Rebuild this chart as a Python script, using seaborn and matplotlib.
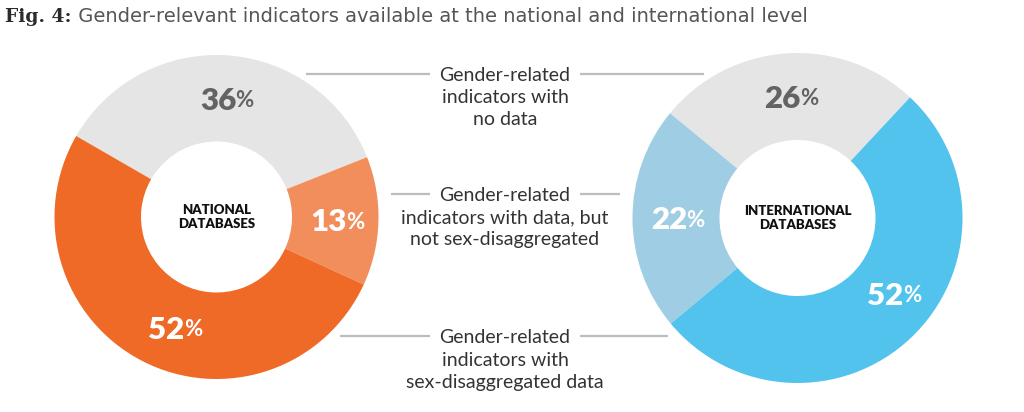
import numpy as np
import matplotlib
matplotlib.use("Agg")
import matplotlib.pyplot as plt
import seaborn as sns

# data
category_labels = [
    "Gender-related\nindicators with\nno data",
    "Gender-related\nindicators with data, but\nnot sex-disaggregated",
    "Gender-related\nindicators with\nsex-disaggregated data",
]
national_pct = [36, 13, 52]
international_pct = [26, 22, 52]
donut_titles = ["NATIONAL\nDATABASES", "INTERNATIONAL\nDATABASES"]

# styles
national_colors = ["#e5e5e5", "#f28e5c", "#ee6a26"]
international_colors = ["#e5e5e5", "#9fcde3", "#52c3ec"]
pct_text_colors = ["#636363", "white", "white"]
line_color = "#bdbdbd"
text_color = "#333333"

sns.set_theme(style="white")
plt.rcParams["font.family"] = ["Lato", "DejaVu Sans"]

W, H = 1024, 412
fig = plt.figure(figsize=(W / 100, H / 100), dpi=100)
ax = fig.add_axes([0, 0, 1, 1])

# layout (pixel units, y up)
donuts = [
    dict(values=national_pct, colors=national_colors, center=(216.5, 195.0),
         radius=162.0, width=86.5, startangle=150, counterclock=False,
         label_shift=[0, 0, 6]),
    dict(values=international_pct, colors=international_colors, center=(797.5, 194.0),
         radius=165.0, width=87.0, startangle=47, counterclock=True,
         label_shift=[0, 0, 8]),
]


def draw_pct(ax, x, y, value, color):
    t = ax.text(x - 7, y, str(value), ha="center", va="center", fontsize=22.5,
                fontweight="heavy", color=color)
    ax.annotate("%", xy=(1, 0), xycoords=t, xytext=(-0.5, 2.5), textcoords="offset points",
                ha="left", va="bottom", fontsize=16, fontweight="bold", color=color)


for d, title in zip(donuts, donut_titles):
    wedges, _ = ax.pie(d["values"], colors=d["colors"], startangle=d["startangle"],
                       counterclock=d["counterclock"], radius=d["radius"], center=d["center"],
                       wedgeprops=dict(width=d["width"], edgecolor="none", linewidth=0),
                       normalize=True, frame=True)
    r_mid = d["radius"] - d["width"] / 2
    for w, val, tc, sh in zip(wedges, d["values"], pct_text_colors, d["label_shift"]):
        ang = np.deg2rad((w.theta1 + w.theta2) / 2 + sh)
        cx, cy = d["center"]
        draw_pct(ax, cx + r_mid * np.cos(ang), cy + r_mid * np.sin(ang) - 2, val, tc)
    ax.text(d["center"][0], d["center"][1], title, ha="center", va="center", fontsize=9.5,
            fontweight="heavy", color="#111111", linespacing=1.2)

# middle category labels with connector lines
label_x = 505
middle_line_y = [314.5, 194.5, 52.0]
line_step = 24.0
text_half = 75
gap = 14
for lab, ym in zip(category_labels, middle_line_y):
    ax.text(label_x, ym, lab, ha="center", va="center", fontsize=14, color=text_color,
            linespacing=1.38)
    yl = ym + line_step
    lc, rc = donuts[0], donuts[1]
    dxl = np.sqrt(max(lc["radius"] ** 2 - (yl - lc["center"][1]) ** 2, 0))
    dxr = np.sqrt(max(rc["radius"] ** 2 - (yl - rc["center"][1]) ** 2, 0))
    ax.plot([lc["center"][0] + dxl + gap, label_x - text_half], [yl, yl],
            color=line_color, lw=1.6, solid_capstyle="butt")
    ax.plot([label_x + text_half, rc["center"][0] - dxr - gap], [yl, yl],
            color=line_color, lw=1.6, solid_capstyle="butt")

ax.set_xlim(0, W)
ax.set_ylim(0, H)
ax.set_aspect("equal")
ax.axis("off")

# title
t1 = fig.text(5 / W, 1 - 17 / H, "Fig. 4:", ha="left", va="center", fontsize=13.5,
              fontweight="bold", color="#2b2b2b", family=["DejaVu Serif"])
ax.annotate(" Gender-relevant indicators available at the national and international level",
            xy=(1, 0), xycoords=t1, ha="left", va="bottom", fontsize=14, color="#555555",
            family=["DejaVu Sans"], annotation_clip=False)

fig.savefig("out.png", dpi=100, facecolor="white")
